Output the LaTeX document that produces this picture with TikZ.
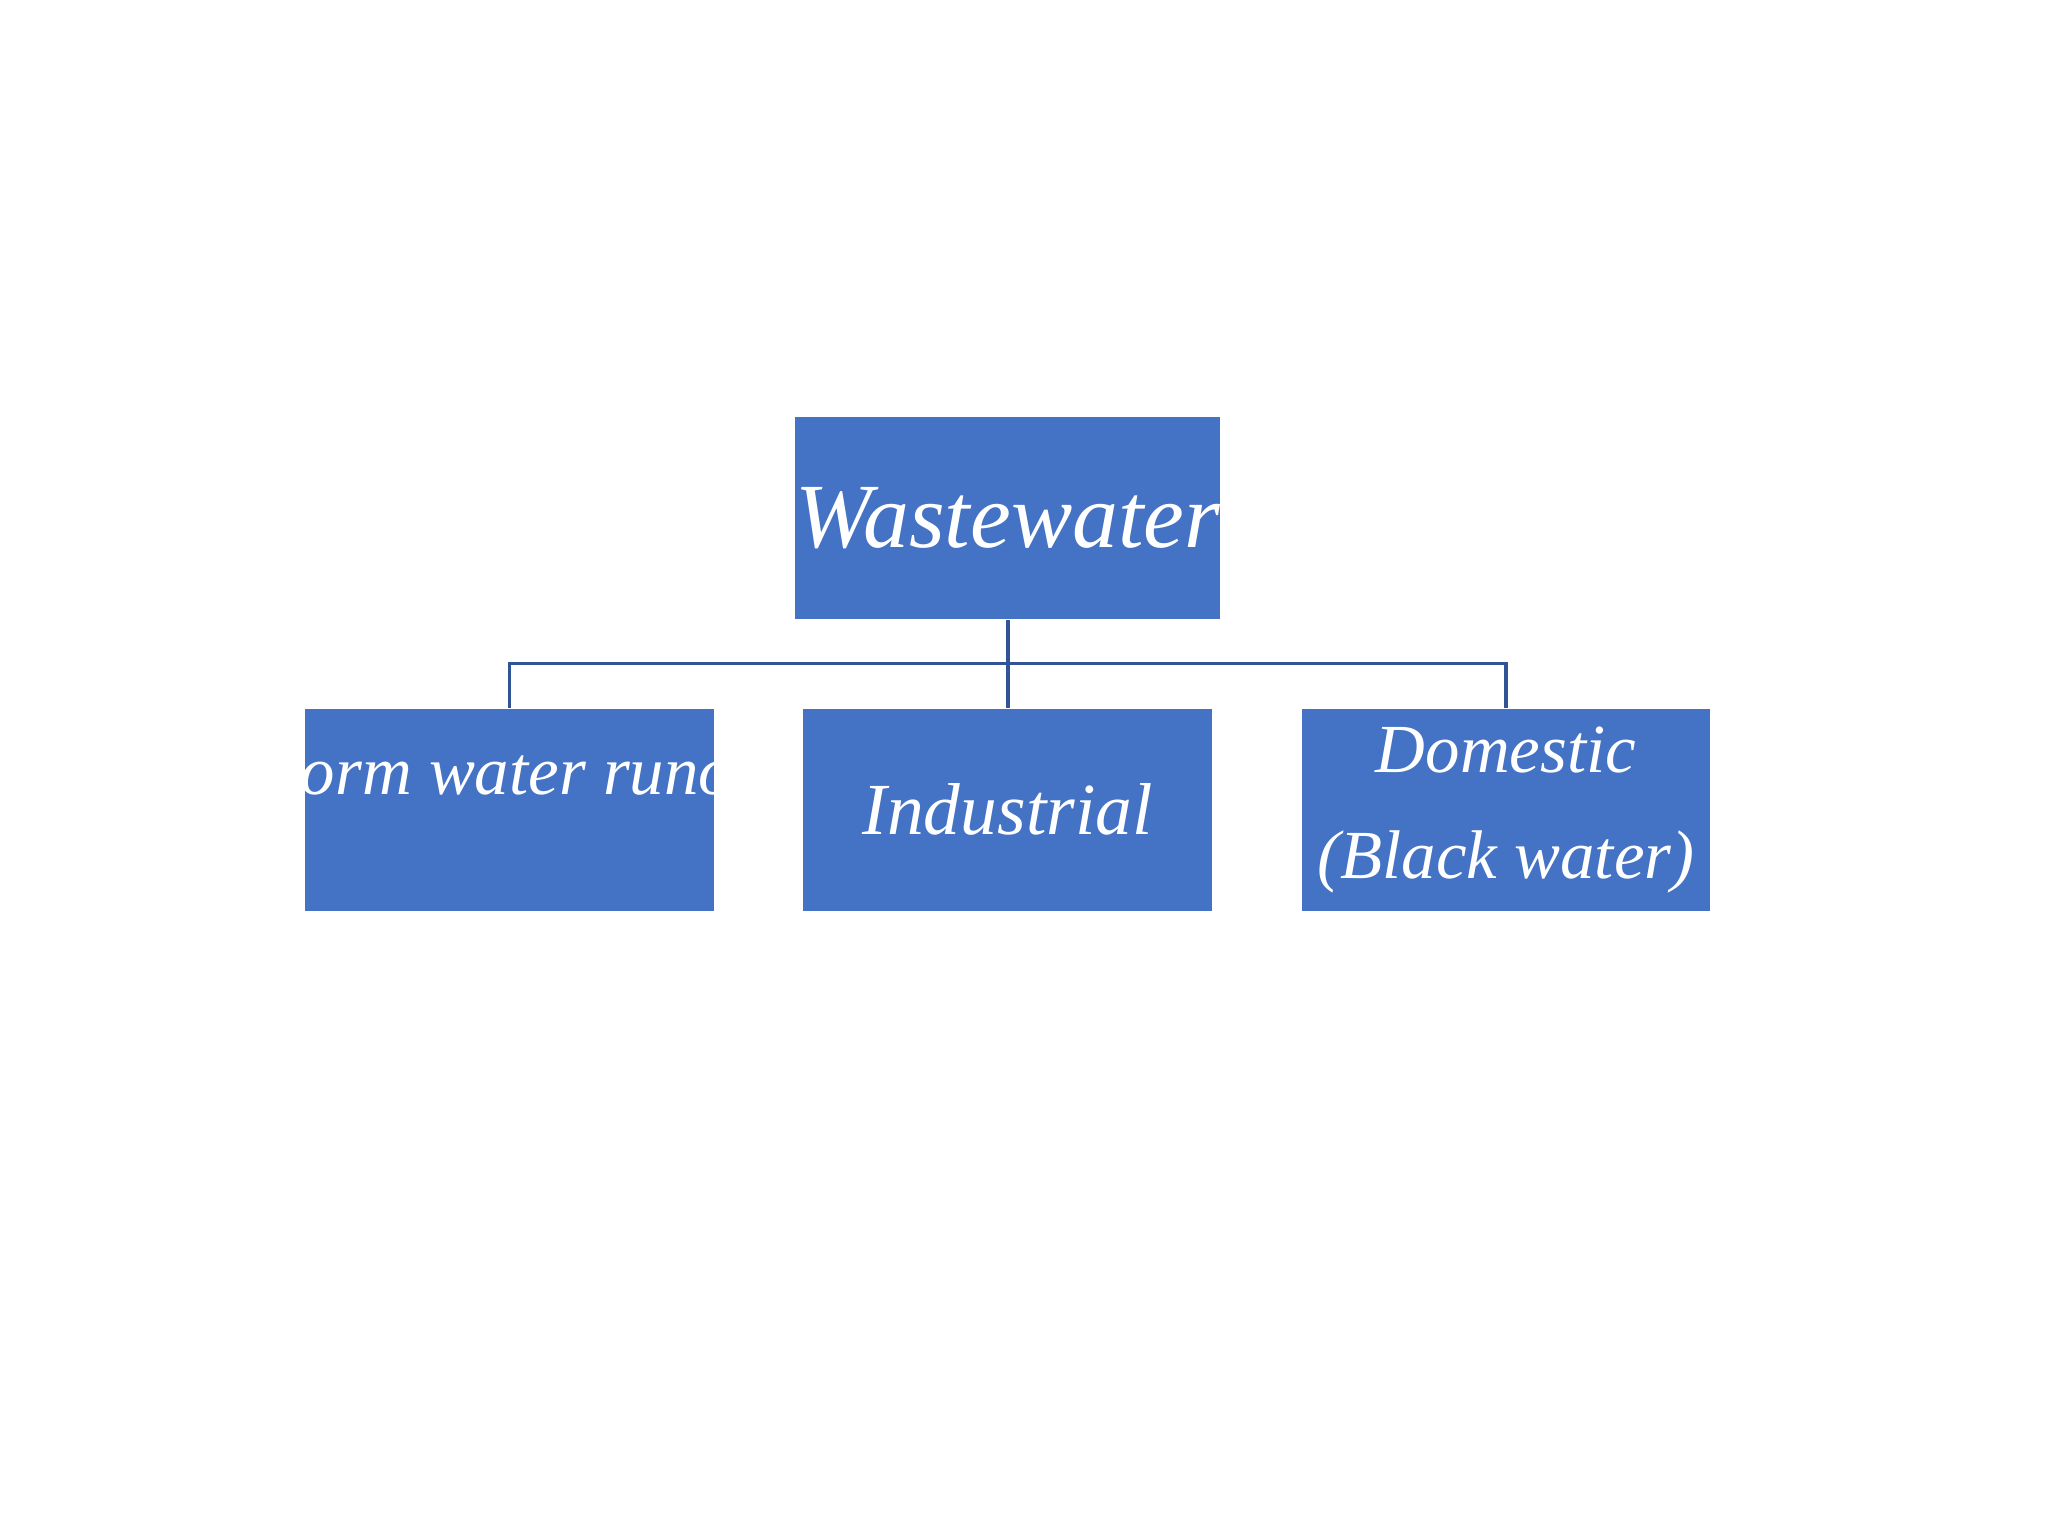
\documentclass[tikz,border=0pt]{standalone}
\usepackage{fontspec}
\setmainfont{Liberation Serif}
\usetikzlibrary{positioning}
\definecolor{boxblue}{HTML}{4472C4}
\definecolor{lineblue}{HTML}{2F5597}

\begin{document}
\begin{tikzpicture}
        \tikzstyle{bnode} = [fill=boxblue, rectangle, minimum width=3.13cm, minimum height=1.55cm, inner sep=0pt, text=white, align=center]
        \tikzstyle{tnode} = [text=white, inner sep=0pt, align=center]
        \useasboundingbox (0,0) rectangle (15.68,11.76);

        \node[bnode, font=\fontsize{20}{24}\selectfont\itshape] (waste) at (7.715,7.795) {Wastewater};
        \node[bnode] (storm) at (3.90,5.56) {};
        \node[tnode, font=\fontsize{15}{18}\selectfont\itshape] (stormtext) at (3.90,5.81) {Storm water runoff};
        \node[bnode, font=\fontsize{16}{19}\selectfont\itshape] (indus) at (7.715,5.56) {Industrial};
        \node[bnode, font=\fontsize{15}{18}\selectfont\itshape] (domes) at (11.53,5.56) {Domestic\\[0.18cm](Black water)};

        \coordinate (bar) at (7.715,6.68);
        \draw[lineblue, thick] (waste.south) -- (indus.north);
        \draw[lineblue, thick] (storm.north) |- (bar) -| (domes.north);
\end{tikzpicture}
\end{document}
